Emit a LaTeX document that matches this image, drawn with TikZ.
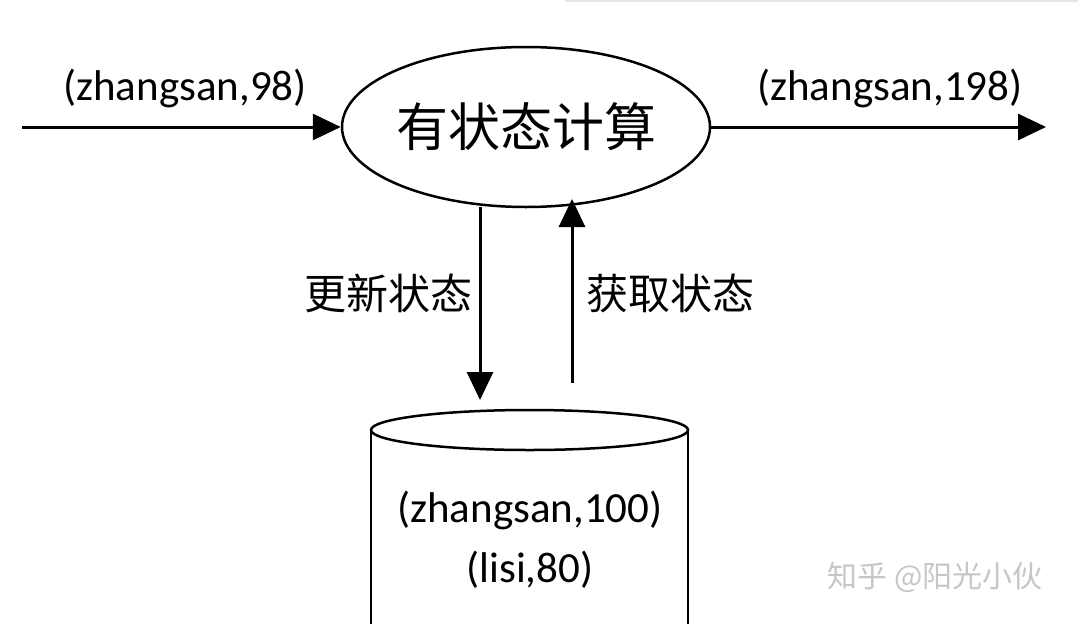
\documentclass[tikz,border=0pt]{standalone}
\usepackage{fontspec}
\setmainfont{Carlito}
\newfontfamily\cjk{Noto Sans CJK SC}
\usetikzlibrary{arrows.meta,shapes.geometric}
\begin{document}
\begin{tikzpicture}[x=1pt,y=-1pt,
  arr/.style={line width=3pt,-{Triangle[length=28pt,width=26pt]}},
  lat/.style={font=\fontsize{43}{48}\selectfont},
  zh/.style={font=\cjk\fontsize{42}{48}\selectfont}]
\useasboundingbox (0,0) rectangle (1078,624);
\draw[gray!20,line width=1.5pt] (565,1) -- (1078,1);
\node[draw,ellipse,line width=2.5pt,minimum width=368pt,minimum height=160pt,inner sep=0pt] (calc) at (526,127) {};
\node[font=\cjk\fontsize{52}{58}\selectfont] at (calc) {有状态计算};
\coordinate (in) at (22,127);
\coordinate (out) at (1046,127);
\draw[arr] (in) -- (calc.west);
\draw[arr] (calc.east) -- (out);
\node[lat] (l1) at (185,88) {(zhangsan,98)};
\node[lat] (l2) at (890,88) {(zhangsan,198)};
% cylinder
\draw[line width=2.5pt] (371,430) -- (371,624);
\draw[line width=2.5pt] (688,430) -- (688,624);
\draw[line width=2.5pt,fill=white] (529.5,430) ellipse (158.5pt and 20pt);
\coordinate (dbtop) at (480,400);
\coordinate (dbsrc) at (572,383);
\draw[arr] (480,207) -- (dbtop);
\draw[arr] (dbsrc) -- (572,199);
\node[zh] (u) at (388,293) {更新状态};
\node[zh] (g) at (670,293) {获取状态};
\node[lat] (d1) at (530,510) {(zhangsan,100)};
\node[lat] (d2) at (530,570) {(lisi,80)};
\node[font=\cjk\fontsize{30}{34}\selectfont,text=gray!45] (w) at (935,577) {知乎 @阳光小伙};
\end{tikzpicture}
\end{document}
